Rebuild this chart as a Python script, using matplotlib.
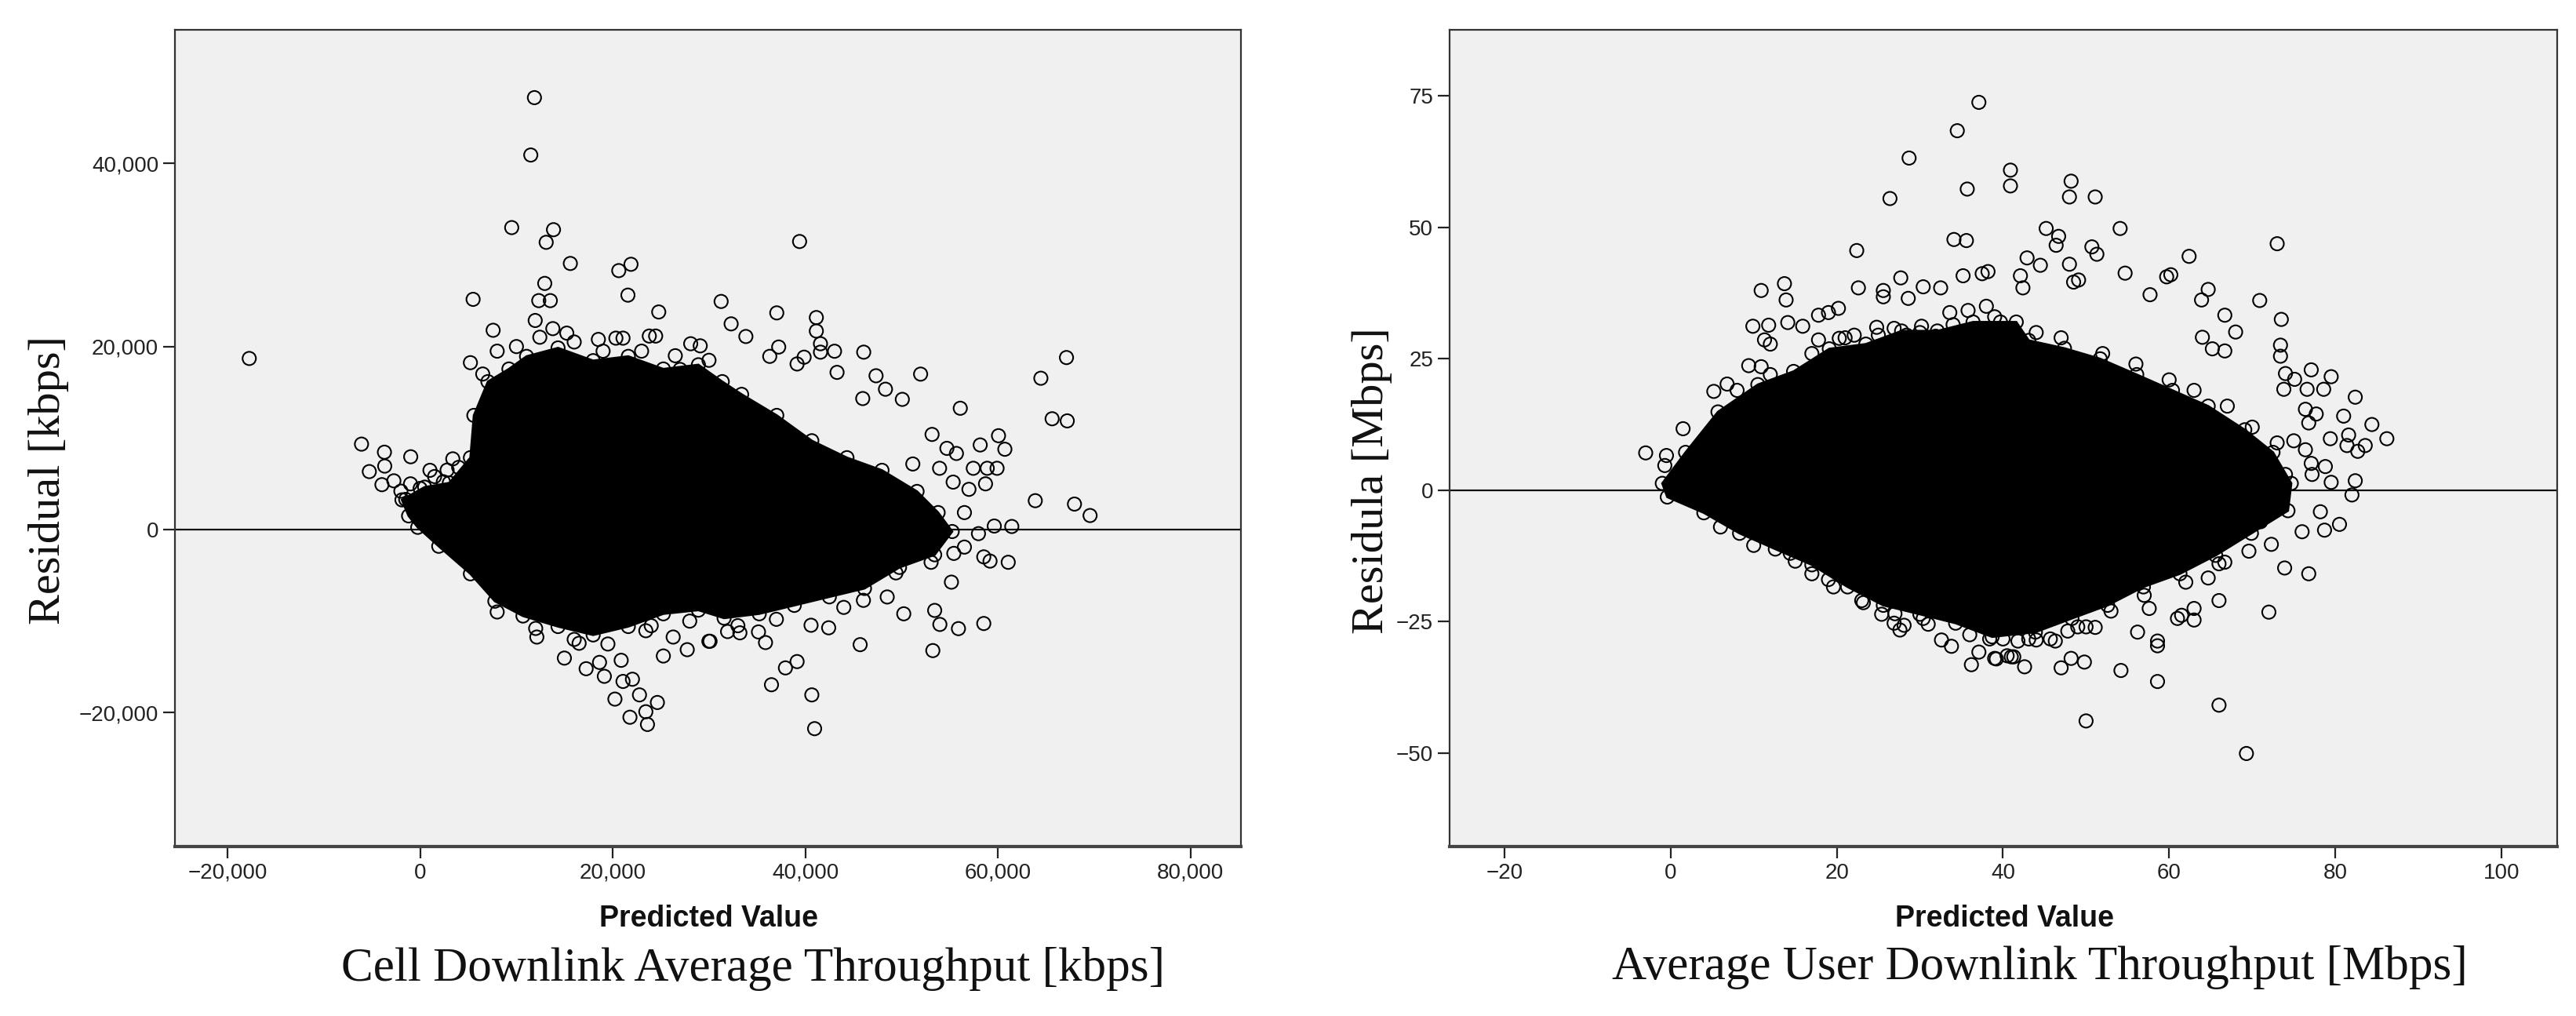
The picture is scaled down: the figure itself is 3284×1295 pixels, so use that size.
import matplotlib
matplotlib.use("Agg")
import matplotlib.pyplot as plt

# ---- left panel: cell downlink average throughput [kbps] ----
left_xticks = [-20000, 0, 20000, 40000, 60000, 80000]
left_xticklabels = ["\u221220,000", "0", "20,000", "40,000", "60,000", "80,000"]
left_yticks = [-20000, 0, 20000, 40000]
left_yticklabels = ["\u221220,000", "0", "20,000", "40,000"]

# outline of the solid black mass of points
left_core_x = [-250, -1200, -1890, 470, 3030, 5220, 5580, 7040, 9220, 11050, 14320,
               17970, 21620, 25260, 28900, 31380, 33390, 37040, 40680, 44330,
               47970, 51610, 53800, 55260, 53440, 49790, 46150, 42500, 38860,
               35220, 31570, 28900, 25260, 21620, 17970, 14320, 10680, 7760,
               5220, 1930]
left_core_y = [250, 1500, 3250, 4640, 5100, 7860, 12480, 16170, 17550, 18930, 19850,
               18460, 18930, 17550, 18010, 16170, 14780, 12480, 9710, 7860,
               6480, 4170, 1860, -210, -2750, -4130, -6430, -7350, -8280,
               -9200, -9670, -8800, -9200, -10590, -11510, -10590, -9440, -7820,
               -4830, -1820]

# single residuals outside the mass
left_out_x = [-17750, 11870, 11490, 9510, 13850, 13090, 15600, 5500, 20630, 21900,
              21580, 12940, 12320, 13520, 24780, 31260, 11950, 7580, 12430, 13780,
              15230, 18510, 20330, 21070, 23800, 24460, 28100, 29090, 5220, -6090,
              -3710, -5280, -3680, -3970, -980, -2730, 1020, 3390, 2410,
              -2000, -1000, 0, 1500, 2800, 4000, -1500, 500,
              6500, 8000, 10000, 16000, 19000, 23000, 26500, 30000, 27000,
              8000, 12000, 16000, 19500, 24000, 28000, 33000, 37000, 44000,
              23610, 21790, 24640, 23440, 20230, 22780, 21070, 22050, 19130, 17240,
              14980, 18630, 29990, 27740, 25260, 23440, 26280, 20880, 12120, 16510,
              39410, 37040, 32300, 33830, 41150, 41150, 41580, 41580, 43040, 37240,
              36310, 39150, 39880, 43300, 46070, 47350, 48330, 45970, 50080, 51980,
              56100, 64470, 67130, 65640, 67210, 53170, 54710, 55700, 58170, 60070,
              60730, 57450, 58900, 59920, 55360, 57000, 58720, 53950, 51170, 63890,
              67960, 69580, 61450, 59630, 57990, 56530, 61080, 59190, 58540, 56530,
              55430, 53070, 55180, 49420, 48510, 46040, 50230, 53440, 53980, 55910,
              58540, 53250, 45700, 42430, 40600, 39150, 37940, 36490, 40680, 40970,
              35870, 35140, 30110, 31930, 33210]
left_out_y = [18700, 47200, 40930, 33000, 32770, 31390, 29080, 25160, 28300, 28990,
              25620, 26900, 25020, 25020, 23780, 24930, 22850, 21780, 21020, 21960,
              21470, 20780, 20920, 20920, 21150, 21150, 20310, 20080, 18240, 9340,
              8460, 6340, 6940, 4910, 7960, 5330, 6480, 7730, 5230,
              4200, 5000, 4500, 5800, 6500, 6800, 3300, 3000,
              17000, 19500, 20000, 20500, 19500, 19500, 19000, 18500, 17500,
              -9000, -10800, -12000, -12500, -10500, -10000, -10500, -9800, -8500,
              -21290, -20500, -18890, -19900, -18520, -18060, -16590, -16350, -16030, -15200,
              -14040, -14510, -12200, -13120, -13810, -11050, -11740, -14280, -11740, -12420,
              31480, 23680, 22480, 21100, 23170, 21700, 20310, 19390, 19490, 19950,
              18930, 18100, 18840, 17180, 19390, 16810, 15340, 14320, 14230, 16990,
              13260, 16540, 18800, 12110, 11880, 10400, 8880, 8320, 9250, 10260,
              8780, 6700, 6700, 6700, 5190, 4400, 5000, 6700, 7170, 3160,
              2790, 1540, 340, 390, -440, 1860, -3570, -3440, -2980, -1910,
              -2600, -3570, -5740, -4730, -7360, -7730, -9200, -8830, -10360, -10820,
              -10260, -13220, -12570, -10730, -10450, -14420, -15110, -16950, -18060, -21750,
              -12340, -11180, -12200, -11140, -11280]

# ---- right panel: average user downlink throughput [Mbps] ----
right_xticks = [-20, 0, 20, 40, 60, 80, 100]
right_xticklabels = ["\u221220", "0", "20", "40", "60", "80", "100"]
right_yticks = [-50, -25, 0, 25, 50, 75]
right_yticklabels = ["\u221250", "\u221225", "0", "25", "50", "75"]

right_core_x = [-1.0, 1.8, 5.7, 10.5, 14.8, 19.1, 23.5, 27.8, 32.1, 36.4, 41.6, 43.1,
                47.4, 51.7, 56.1, 60.4, 64.7, 69.1, 72.5, 74.7, 74.3, 69.9, 65.6,
                61.3, 56.9, 52.6, 48.3, 43.9, 38.7, 34.3, 30.0, 25.6, 21.3, 17.0,
                12.6, 8.3, 4.0, -0.4]
right_core_y = [1.3, 7.2, 14.9, 20.1, 22.6, 26.9, 27.8, 30.3, 30.3, 32.0, 32.0, 28.5,
                27.0, 25.0, 22.0, 19.0, 16.0, 11.5, 7.2, 1.3, -3.9, -8.2, -12.4,
                -15.9, -18.4, -21.9, -24.4, -27.0, -27.9, -25.3, -23.6, -21.9, -18.4, -14.2,
                -11.2, -8.2, -4.3, -1.3]

right_out_x = [37.1, 34.5, 28.7, 40.9, 40.9, 35.7, 26.4, 22.4, 34.1, 35.6, 22.6, 10.9,
               13.7, 13.9, 27.7, 25.6, 25.6, 30.4, 32.5, 35.2, 38.2, 37.5, 28.6, 20.2,
               19.0, 17.8, 9.9, 11.8, 14.1, 15.9, 11.3, 12.0, 5.2, 6.8, 9.4, 10.9,
               1.5, -3.0, -0.5, -0.7, 17.8, 20.3, 22.1, 24.8, 26.9, 28.4, 30.2, 31.9,
               33.6, 35.8, 38.0, 39.7,
               8, 12, 17, 21, 25, 30, 34, 39, 44, 47, 52, 56, 60, 63, 67, 70, 73,
               66, 62, 57, 53, 49, 44, 36, 31, 27, 23, 19, 15, 10, 6,
               36.2, 37.1, 39.0, 32.6, 33.8, 38.4, 41.0, 27.6, 28.1, 26.9, 25.4, 23.2,
               30.4, 17.0, 19.6, 14.4,
               48.2, 48.0, 51.1, 54.1, 45.2, 46.7, 46.4, 50.7, 51.3, 42.9, 44.5, 48.0,
               42.1, 42.4, 48.5, 49.1, 54.7, 62.4, 59.7, 60.2, 73.0, 57.7, 64.7, 63.9,
               70.9, 66.7, 73.5, 68.0, 64.0, 65.2, 66.7, 73.4, 73.4, 77.1, 79.5, 76.6,
               78.6, 73.8, 74.0, 75.1, 82.4, 81.0, 84.4, 86.2, 76.4, 77.7, 76.8, 79.4,
               81.6, 81.4, 82.7, 83.6, 75.0, 76.4, 77.1, 78.8, 77.2, 79.5, 82.4, 82.0,
               78.2, 80.5, 78.7, 76.0, 72.3, 73.9, 76.8, 72.0, 66.0, 69.6, 66.7, 64.7,
               63.0, 63.0, 61.0, 61.5, 58.6, 58.6, 57.6, 56.2, 58.6, 54.2, 66.0, 69.3,
               50.0, 49.8, 47.0, 48.2, 42.6, 41.3, 40.5, 39.2, 50.0, 51.1, 47.8, 45.7,
               46.3, 43.1, 41.8, 40.0, 70.0, 72.0, 68.0, 71.0, 74.0]
right_out_y = [73.8, 68.4, 63.2, 60.9, 57.9, 57.3, 55.5, 45.6, 47.7, 47.5, 38.5, 38.0,
               39.3, 36.2, 40.4, 38.0, 36.8, 38.7, 38.5, 40.8, 41.6, 41.2, 36.5, 34.6,
               33.8, 33.3, 31.2, 31.4, 31.9, 31.2, 28.6, 27.8, 18.8, 20.2, 23.7, 23.5,
               11.7, 7.1, 6.6, 4.7, 28.6, 28.9, 29.5, 31.0, 30.8, 29.5, 31.2, 29.3,
               33.8, 34.2, 35.0, 32.0,
               19, 22, 26, 29, 29.5, 30, 31.5, 33, 30, 29, 26, 24, 21, 19, 16, 12, 9,
               -14, -17.5, -20, -23, -26, -28.5, -27.5, -25.5, -23.5, -21, -17, -13.5, -10.5, -7,
               -33.2, -30.8, -32.0, -28.5, -29.7, -28.3, -31.7, -26.6, -25.7, -25.3, -23.6, -21.4,
               -24.4, -15.9, -18.4, -12.0,
               58.8, 55.8, 55.8, 49.8, 49.8, 48.3, 46.6, 46.3, 44.9, 44.2, 42.8, 43.0,
               40.8, 38.5, 39.6, 40.0, 41.3, 44.5, 40.6, 41.0, 46.9, 37.2, 38.2, 36.2,
               36.1, 33.3, 32.5, 30.1, 29.1, 26.9, 26.5, 27.6, 25.5, 22.9, 21.6, 19.2,
               19.2, 19.2, 22.2, 21.1, 17.7, 14.1, 12.5, 9.8, 15.4, 14.5, 12.8, 9.8,
               10.5, 8.5, 7.4, 8.5, 9.4, 7.7, 5.1, 4.5, 3.0, 1.5, 1.8, -0.9,
               -4.1, -6.5, -7.6, -7.9, -10.3, -14.8, -15.9, -23.2, -21.0, -11.6, -13.7, -16.7,
               -22.5, -24.7, -24.4, -23.8, -28.7, -29.6, -22.5, -27.0, -36.4, -34.3, -40.9, -50.1,
               -43.9, -32.7, -33.8, -32.0, -33.6, -31.7, -31.5, -32.1, -26.0, -26.1, -26.8, -28.3,
               -28.7, -28.3, -28.7, -28.3, 5.0, -3.0, 8.0, -6.0, 3.0]

W, H = 3284, 1295
fig = plt.figure(figsize=(W / 100, H / 100), dpi=100)
fig.patch.set_facecolor("white")

serif = "Liberation Serif"
sans = "Liberation Sans"

ax_top, ax_bot = 38, 1079


def panel(rect, core_x, core_y, out_x, out_y, xlim, ylim, xt, xtl, yt, ytl):
    ax = fig.add_axes(rect)
    ax.set_facecolor("#f0f0f0")
    ax.axhline(0, color="#111111", lw=1.6, zorder=1)
    ax.fill(core_x, core_y, color="black", lw=2, zorder=2)
    ax.scatter(core_x, core_y, s=150, facecolors="none", edgecolors="black",
               linewidths=1.5, zorder=3)
    ax.scatter(out_x, out_y, s=150, facecolors="none", edgecolors="black",
               linewidths=1.5, zorder=3)
    ax.set_xlim(xlim)
    ax.set_ylim(ylim)
    ax.set_xticks(xt)
    ax.set_xticklabels(xtl)
    ax.set_yticks(yt)
    ax.set_yticklabels(ytl)
    ax.tick_params(direction="out", length=11, width=1.6, color="#222222",
                   labelsize=20, labelcolor="#222222", pad=4)
    for lab in ax.get_xticklabels() + ax.get_yticklabels():
        lab.set_family(sans)
    for sp in ax.spines.values():
        sp.set_linewidth(1.6)
        sp.set_color("#333333")
    ax.spines["bottom"].set_linewidth(3)
    ax.spines["bottom"].set_color("#444444")
    return ax


panel([223 / W, (H - ax_bot) / H, (1582 - 223) / W, (ax_bot - ax_top) / H],
      left_core_x, left_core_y, left_out_x, left_out_y,
      (-25470, 85250), (-34630, 54610),
      left_xticks, left_xticklabels, left_yticks, left_yticklabels)

panel([1848 / W, (H - ax_bot) / H, (3260 - 1848) / W, (ax_bot - ax_top) / H],
      right_core_x, right_core_y, right_out_x, right_out_y,
      (-26.6, 106.7), (-67.8, 87.6),
      right_xticks, right_xticklabels, right_yticks, right_yticklabels)

# axis titles
fig.text(62 / W, 1 - 612 / H, "Residual [kbps]", rotation=90, ha="center",
         va="center", family=serif, fontsize=42, color="#111111")
fig.text(1749 / W, 1 - 613 / H, "Residula [Mbps]", rotation=90, ha="center",
         va="center", family=serif, fontsize=42, color="#111111")

fig.text(903 / W, 1 - 1181 / H, "Predicted Value", ha="center", va="baseline",
         family=sans, fontweight="bold", fontsize=27, color="#111111")
fig.text(2555 / W, 1 - 1181 / H, "Predicted Value", ha="center", va="baseline",
         family=sans, fontweight="bold", fontsize=27, color="#111111")

fig.text(960 / W, 1 - 1250 / H, "Cell Downlink Average Throughput [kbps]",
         ha="center", va="baseline", family=serif, fontsize=44, color="#111111")
fig.text(2600 / W, 1 - 1248 / H, "Average User Downlink Throughput [Mbps]",
         ha="center", va="baseline", family=serif, fontsize=44, color="#111111")

fig.savefig("out.png", dpi=100, facecolor="white")
